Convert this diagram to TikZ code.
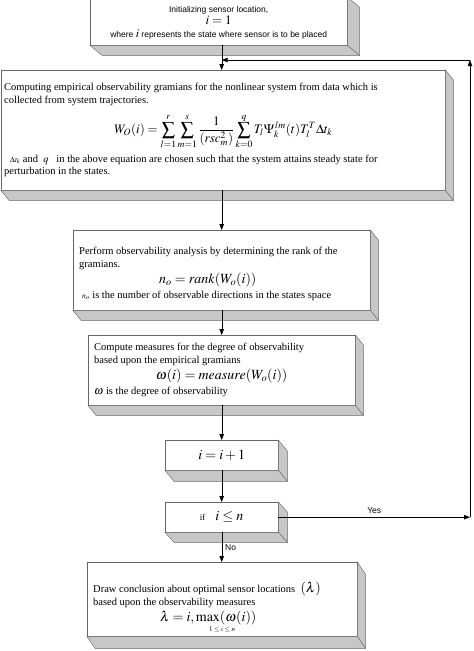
\documentclass[tikz,border=0pt]{standalone}
\usepackage{amsmath}
\usepackage{mathptmx}
\usepackage{fontspec}
\setmainfont{Liberation Serif}
\setsansfont{Liberation Sans}
\usepackage{tikz}
\usetikzlibrary{arrows.meta}
\tikzset{
    slab-box/.style = {draw=black!60, fill=white, thin, rectangle, inner sep=0pt, anchor=north west},
    slab-face/.style = {draw=black!60, fill=black!22, thin},
    flow-line/.style = {draw=black, thin, -{Triangle[length=6pt,width=4.5pt]}},
    flow-label/.style = {font=\sffamily\fontsize{8.5}{10}\selectfont},
}
\newcommand{\eqsize}{\fontsize{14}{16}\selectfont}
\newcommand{\boxtext}{\fontsize{10.5}{12.5}\selectfont}

\begin{document}
\begin{tikzpicture}[x=1pt,y=-1pt]
\useasboundingbox (0,0) rectangle (474,651);
% the steps, front faces
\node[slab-box, minimum width=257pt, minimum height=48pt] (init) at (90,-3) {\begin{minipage}{250pt}\centering\sffamily\fontsize{8.5}{10}\selectfont
    \vspace*{3pt}
    Initializing sensor location,\\[0pt]
    {\fontsize{13}{13}\selectfont$i=1$}\\[3pt]
    where {\large$i$} represents the state where sensor is to be placed
\end{minipage}};
\node[slab-box, minimum width=444pt, minimum height=120pt] (gram) at (1,70) {\begin{minipage}{438pt}\boxtext
    Computing empirical observability gramians for the nonlinear system from data which is\\
    collected from system trajectories.\par
    \vspace{7pt}
    {\centering\fontsize{13}{15}\selectfont $\displaystyle W_O(i)=\sum_{l=1}^{r}\sum_{m=1}^{s}\frac{1}{(rsc_m^2)}\sum_{k=0}^{q}T_l\Psi_k^{\,lm}(t)T_l^T\Delta t_k$\par}
    \vspace{5pt}
    \hspace*{6pt}$\scriptstyle\Delta t_k$ and~ $q$ ~~in the above equation are chosen such that the system attains steady state for\\
    perturbation in the states.
\end{minipage}};
\node[slab-box, minimum width=297pt, minimum height=80pt] (perform) at (73,230) {\begin{minipage}{285pt}\boxtext
    \vspace*{8pt}
    Perform observability analysis by determining the rank of the\\
    gramians.\par
    {\centering\hspace*{-28pt}\eqsize $n_o=rank(W_o(i))$\par}
    \vspace{3pt}
    \hspace*{3pt}$\scriptstyle n_o$ is the number of observable directions in the states space
\end{minipage}};
\node[slab-box, minimum width=267pt, minimum height=70pt] (measure) at (88,335) {\begin{minipage}{255pt}\boxtext
    Compute measures for the degree of observability\\
    based upon the empirical gramians\par
    {\centering\eqsize $\omega(i)=measure(W_o(i))$\par}
    \vspace{3pt}
    {\fontsize{12}{12}\selectfont$\omega$} is the degree of observability
\end{minipage}};
\node[slab-box, minimum width=113pt, minimum height=30pt] (incr) at (165,440) {\eqsize $i=i+1$};
\node[slab-box, minimum width=113pt, minimum height=30pt] (check) at (165,502) {{\fontsize{9}{10}\selectfont if}\hspace{10pt}{\eqsize $i\le n$}};
\node[slab-box, minimum width=270pt, minimum height=74pt] (conclude) at (87,562) {\begin{minipage}{258pt}\boxtext
    \vspace*{16pt}
    Draw conclusion about optimal sensor locations~ {\eqsize$(\lambda)$}\\
    based upon the observability measures\par
    {\centering\hspace*{-28pt}\eqsize $\lambda=i,\max(\omega(i))$\par}
    \vspace{1pt}
    {\centering\fontsize{7}{8}\selectfont$1\le i\le n$\par}
\end{minipage}};
% the sides that give the boxes depth
\foreach \n/\dx/\dy in {init/12/10, gram/8/10, perform/8/10, measure/8/10, incr/9/11, check/9/10, conclude/8/12} {
    \draw[slab-face] (\n.north east) -- ++(\dx,\dy) -- ([shift={(\dx,\dy)}]\n.south east) -- (\n.south east) -- cycle;
    \draw[slab-face] (\n.south west) -- (\n.south east) -- ++(\dx,\dy) -- ([shift={(\dx,\dy)}]\n.south west) -- cycle;
}
% connectors
\draw[flow-line] (perform.north |- init.south) -- (perform.north |- gram.north);
\draw[flow-line] (perform.north |- gram.south) -- (perform.north);
\draw[flow-line] (measure.north |- perform.south) -- (measure.north);
\draw[flow-line] (incr.north |- measure.south) -- (incr.north);
\draw[flow-line] (incr.south) -- (check.north);
\draw[flow-line] (check.south) -- node[flow-label, right] {No} (check.south |- conclude.north);
% loop back
\coordinate (loop-top) at (470,60);
\coordinate (loop-corner) at (loop-top |- check.east);
\draw[flow-line] (check.east) -- node[flow-label, above] {Yes} (loop-corner);
\draw[flow-line] (loop-corner) -- (loop-top);
\draw[flow-line] (loop-top) -- (perform.north |- loop-top);
\end{tikzpicture}
\end{document}
